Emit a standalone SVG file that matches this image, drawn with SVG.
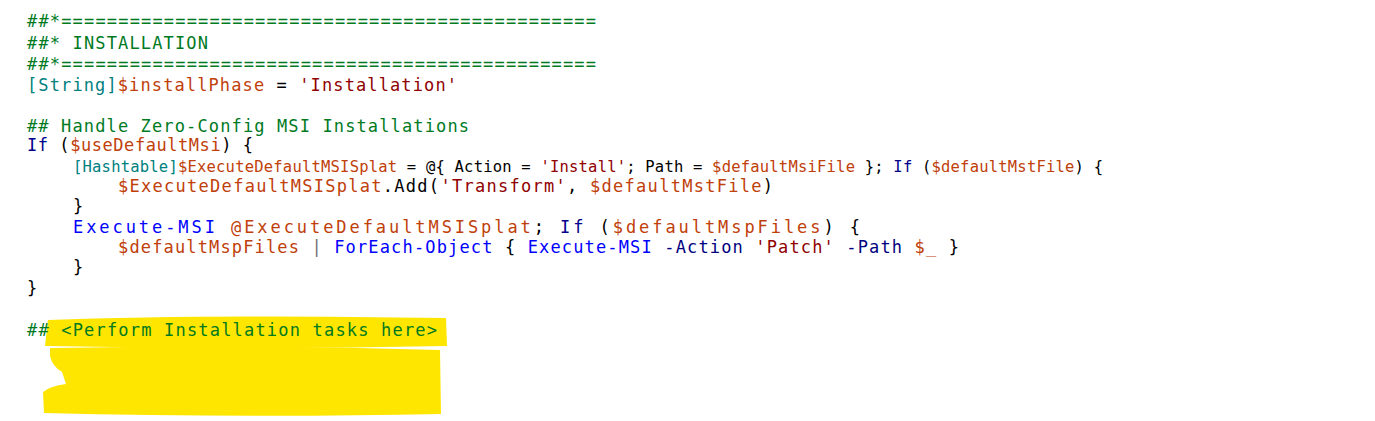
<svg xmlns="http://www.w3.org/2000/svg" width="1375" height="421" viewBox="0 0 1375 421">
<style>
text{font-family:"DejaVu Sans Mono","Liberation Mono",monospace;font-size:17px;fill:#000;white-space:pre}
.c{fill:#007a1f}.t{fill:#008080}.v{fill:#c0400a}.s{fill:#900000}.k{fill:#00008b}.m{fill:#0000ff}.p{fill:#000080}.o{fill:#707070}
</style>
<rect width="1375" height="421" fill="#fff"/>
<g id="highlight" fill="#ffe600">
<path d="M48 320 Q200 314 446 318 L447 346 Q250 350 45 346 Z"/>
<path d="M50 348 Q250 344 440 350 L441 414 Q250 418 44 413 L43 392 Q50 386 66 384 L62 372 Q52 366 50 356 Z"/>
</g>
<g id="code">
<text x="27" y="27" textLength="569" lengthAdjust="spacing" class="c">##*===============================================</text>
<text x="27" y="49" textLength="181" lengthAdjust="spacing" class="c">##* INSTALLATION</text>
<text x="27" y="70" textLength="569" lengthAdjust="spacing" class="c">##*===============================================</text>
<text x="27" y="91" textLength="430" lengthAdjust="spacing"><tspan class="t">[String]</tspan><tspan class="v">$installPhase</tspan> = <tspan class="s">'Installation'</tspan></text>
<text x="27" y="132" textLength="442" lengthAdjust="spacing" class="c">## Handle Zero-Config MSI Installations</text>
<text x="27" y="151" textLength="226" lengthAdjust="spacing"><tspan class="k">If</tspan> (<tspan class="v">$useDefaultMsi</tspan>) {</text>
<text x="73" y="172" textLength="1030" lengthAdjust="spacing" style="font-size:15.5px"><tspan class="t">[Hashtable]</tspan><tspan class="v">$ExecuteDefaultMSISplat</tspan> = @{ Action = <tspan class="s">'Install'</tspan>; Path = <tspan class="v">$defaultMsiFile</tspan> }; <tspan class="k">If</tspan> (<tspan class="v">$defaultMstFile</tspan>) {</text>
<text x="118" y="192" textLength="655" lengthAdjust="spacing"><tspan class="v">$ExecuteDefaultMSISplat</tspan>.Add(<tspan class="s">'Transform'</tspan>, <tspan class="v">$defaultMstFile</tspan>)</text>
<text x="73" y="212">}</text>
<text x="73" y="233" textLength="787" lengthAdjust="spacing"><tspan class="m">Execute-MSI</tspan> <tspan class="v">@ExecuteDefaultMSISplat</tspan>; <tspan class="k">If</tspan> (<tspan class="v">$defaultMspFiles</tspan>) {</text>
<text x="118" y="253" textLength="841" lengthAdjust="spacing"><tspan class="v">$defaultMspFiles</tspan> <tspan class="o">|</tspan> <tspan class="m">ForEach-Object</tspan> { <tspan class="m">Execute-MSI</tspan> <tspan class="p">-Action</tspan> <tspan class="s">'Patch'</tspan> <tspan class="p">-Path</tspan> <tspan class="v">$_</tspan> }</text>
<text x="73" y="273">}</text>
<text x="27" y="294">}</text>
<text x="27" y="336" textLength="410" lengthAdjust="spacing" class="c">## &lt;Perform Installation tasks here&gt;</text>
</g>
</svg>
